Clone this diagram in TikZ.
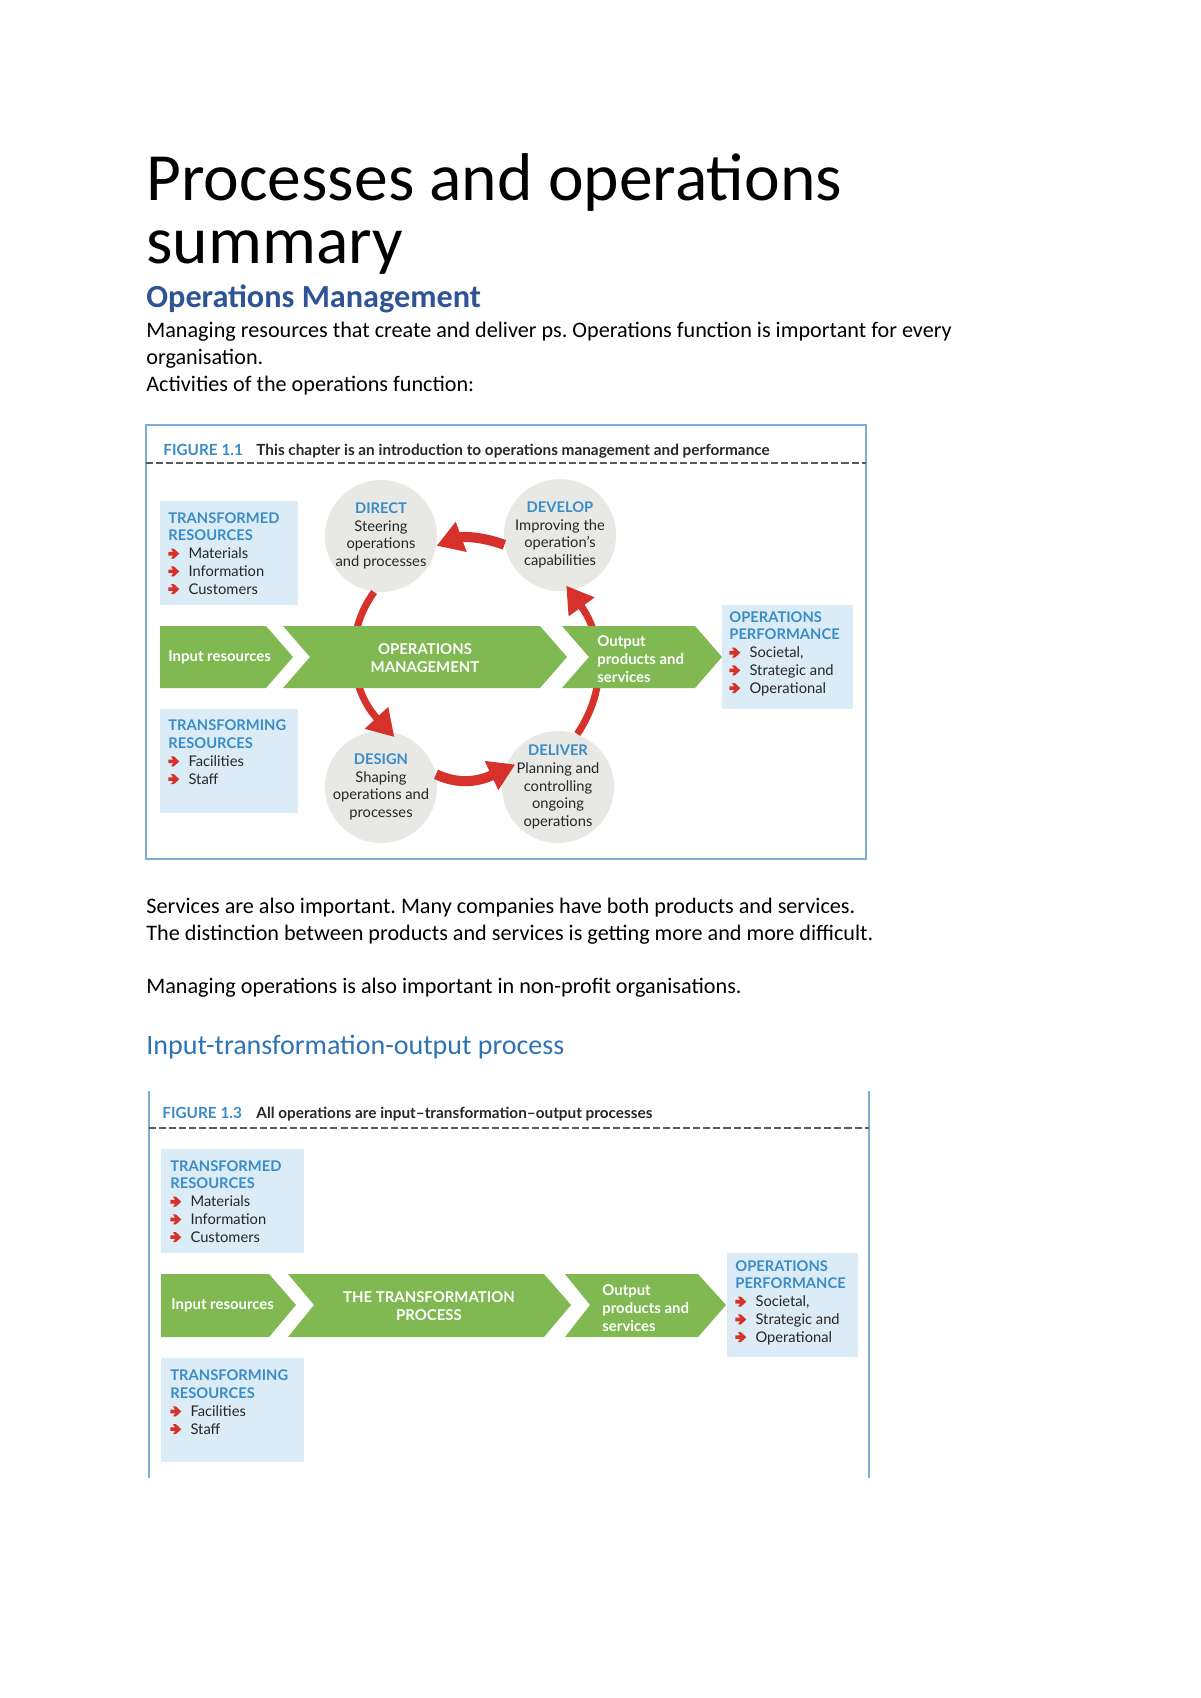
\documentclass[tikz,border=0pt]{standalone}
\usepackage{fontspec}
\setmainfont{Carlito}
\newfontfamily\figfont{Lato}
\usepackage{xcolor}
\usetikzlibrary{arrows.meta}
\frenchspacing
\definecolor{headblue}{RGB}{47,84,150}
\definecolor{subblue}{RGB}{46,116,181}
\definecolor{figblue}{RGB}{58,140,200}
\definecolor{boxblue}{RGB}{220,236,246}
\definecolor{bandgreen}{RGB}{128,185,82}
\definecolor{cyclered}{RGB}{214,49,43}
\definecolor{stagegray}{RGB}{232,232,229}
\definecolor{frameblue}{RGB}{126,173,216}
% red bullet arrow in the resource lists
\newcommand{\redarr}{\tikz[baseline=0pt]\fill[cyclered] (0pt,3.3pt) -- (2.3pt,3.3pt) -- (1.3pt,4.9pt) -- (2.7pt,4.9pt) -- (5.4pt,2.4pt) -- (2.7pt,-0.1pt) -- (1.3pt,-0.1pt) -- (2.3pt,1.5pt) -- (0pt,1.5pt) -- cycle;\hspace{4.6pt}}
\newcommand{\boxhead}[1]{{\bfseries\color{figblue}#1}}
\tikzset{
  pagetext/.style={anchor=base west, inner sep=0pt, font=\fontsize{11}{13.4}\selectfont},
  pagetitle/.style={pagetext, font=\fontsize{33.5}{40}\selectfont},
  headone/.style={pagetext, font=\fontsize{16}{19}\selectfont\bfseries, text=headblue},
  headtwo/.style={pagetext, font=\fontsize{13.9}{16}\selectfont, text=subblue},
  figborder/.style={draw=frameblue, line width=0.9pt},
  figrule/.style={draw=black!65, line width=0.7pt, dash pattern=on 3.5pt off 1.5pt},
  fignum/.style={anchor=base west, inner sep=0pt, font=\figfont\fontsize{7.6}{8.8}\selectfont\bfseries, text=figblue},
  figcap/.style={fignum, text=black!85},
  resbox/.style={anchor=north west, fill=boxblue, inner sep=0pt, minimum width=68.5pt, minimum height=51.6pt},
  perfbox/.style={resbox, minimum width=65pt},
  boxtext/.style={anchor=base west, inner sep=0pt, align=left, font=\figfont\fontsize{7.3}{8.8}\selectfont, text=black!85},
  stage/.style={circle, fill=stagegray, inner sep=0pt, minimum size=55.6pt},
  stagetext/.style={inner sep=0pt, align=center, font=\figfont\fontsize{7.3}{8.8}\selectfont, text=black!85},
  bandtext/.style={inner sep=0pt, font=\figfont\fontsize{7.4}{8.8}\selectfont\bfseries, text=white},
  cyclearrow/.style={draw=cyclered, line width=#1, -{Triangle[length=13pt,width=15pt]}},
  cyclearrow/.default=4pt
}
\begin{document}
\begin{tikzpicture}[x=0.4961pt, y=0.4961pt]
\useasboundingbox (0,0) rectangle (1200,-1698);
\fill[white] (0,0) rectangle (1200,-1698);
% Page heading and opening lines
\node[pagetitle] (title) at (146,-200) {Processes and operations};
\node[pagetitle] (titletwo) at (146,-263) {summary};
\node[headone] (opsman) at (146,-307) {Operations Management};
\node[pagetext] (lineone) at (146,-337) {Managing resources that create and deliver ps. Operations function is important for every};
\node[pagetext] (linetwo) at (146,-364) {organisation.};
\node[pagetext] (linethree) at (146,-391) {Activities of the operations function:};
% FIGURE 1.1 frame and caption
\draw[figborder] (146,-425) rectangle (866,-859);
\node[fignum] (numone) at (163,-455) {FIGURE 1.1};
\node[figcap] (capone) at (256,-455) {This chapter is an introduction to operations management and performance};
\draw[figrule] (146,-463) -- (866,-463);
% resource boxes (list nodes sit on the baseline of their last line)
\node[resbox] (transformed) at (160,-501) {};
\node[boxtext] (transformedlist) at (168,-594) {\boxhead{TRANSFORMED}\\\boxhead{RESOURCES}\\\redarr Materials\\\redarr Information\\\redarr Customers};
\node[resbox] (transforming) at (160,-709) {};
\node[boxtext] (transforminglist) at (168,-784) {\boxhead{TRANSFORMING}\\\boxhead{RESOURCES}\\\redarr Facilities\\\redarr Staff};
\node[perfbox] (perf) at (722,-605) {};
\node[boxtext] (perflist) at (729,-693) {\boxhead{OPERATIONS}\\\boxhead{PERFORMANCE}\\\redarr Societal,\\\redarr Strategic and\\\redarr Operational};
% the four activities
\node[stage] (direct) at (381,-536) {};
\node[stagetext] (directtext) at (direct) {\boxhead{DIRECT}\\Steering\\operations\\and processes};
\node[stage] (develop) at (560,-535) {};
\node[stagetext] (developtext) at (develop) {\boxhead{DEVELOP}\\Improving the\\operation’s\\capabilities};
\node[stage] (design) at (381,-787) {};
\node[stagetext] (designtext) at (design) {\boxhead{DESIGN}\\Shaping\\operations and\\processes};
\node[stage] (deliver) at (558,-787) {};
\node[stagetext] (delivertext) at (deliver) {\boxhead{DELIVER}\\Planning and\\controlling\\ongoing\\operations};
% red cycle
\draw[cyclearrow=5pt] (develop.190) to[out=160,in=20] (direct.-10);
\draw[cyclearrow=3.5pt, shorten >=-4pt] (direct.263) to[out=234,in=133] (design.82);
\draw[cyclearrow=5pt, shorten >=-6pt] (design.13) to[out=-25,in=205] (deliver.162);
\draw[cyclearrow=3.5pt, shorten >=-3pt] (deliver.70) to[out=56,in=-54] (develop.-80);
% green band
\fill[bandgreen] (160,-626) -- (266,-626) -- (293,-657) -- (266,-688) -- (160,-688) -- cycle;
\fill[bandgreen] (283,-626) -- (540,-626) -- (567,-657) -- (540,-688) -- (283,-688) -- (310,-657) -- cycle;
\fill[bandgreen] (562,-626) -- (695,-626) -- (722,-657) -- (695,-688) -- (562,-688) -- (589,-657) -- cycle;
\node[bandtext, anchor=west] (inputone) at (168,-657) {Input resources};
\node[bandtext, align=center] (opsmgmt) at (425,-658) {OPERATIONS\\MANAGEMENT};
\node[bandtext, align=left, anchor=west] (outputone) at (597,-659) {Output\\products and\\services};
% text between the figures
\node[pagetext] (linefour) at (146,-913) {Services are also important. Many companies have both products and services.};
\node[pagetext] (linefive) at (146,-940) {The distinction between products and services is getting more and more difficult.};
\node[pagetext] (linesix) at (146,-993) {Managing operations is also important in non-profit organisations.};
\node[headtwo] (itoproc) at (146,-1054) {Input-transformation-output process};
% FIGURE 1.3 frame and caption
\draw[figborder] (149,-1091) -- (149,-1478);
\draw[figborder] (869,-1091) -- (869,-1478);
\node[fignum] (numtwo) at (162,-1118) {FIGURE 1.3};
\node[figcap] (captwo) at (256,-1118) {All operations are input–transformation–output processes};
\draw[figrule] (149,-1128) -- (869,-1128);
% resource boxes
\node[resbox, minimum width=70.5pt] (transformedtwo) at (161,-1149) {};
\node[boxtext] (transformedlisttwo) at (170,-1242) {\boxhead{TRANSFORMED}\\\boxhead{RESOURCES}\\\redarr Materials\\\redarr Information\\\redarr Customers};
\node[resbox, minimum width=70.5pt] (transformingtwo) at (161,-1358) {};
\node[boxtext] (transforminglisttwo) at (170,-1434) {\boxhead{TRANSFORMING}\\\boxhead{RESOURCES}\\\redarr Facilities\\\redarr Staff};
\node[perfbox] (perftwo) at (727,-1253) {};
\node[boxtext] (perflisttwo) at (735,-1342) {\boxhead{OPERATIONS}\\\boxhead{PERFORMANCE}\\\redarr Societal,\\\redarr Strategic and\\\redarr Operational};
% green band
\fill[bandgreen] (161,-1274) -- (269,-1274) -- (296,-1305) -- (269,-1337) -- (161,-1337) -- cycle;
\fill[bandgreen] (288,-1274) -- (544,-1274) -- (571,-1305) -- (544,-1337) -- (288,-1337) -- (314,-1305) -- cycle;
\fill[bandgreen] (565,-1274) -- (698,-1274) -- (726,-1305) -- (698,-1337) -- (565,-1337) -- (590,-1305) -- cycle;
\node[bandtext, anchor=west] (inputtwo) at (171,-1305) {Input resources};
\node[bandtext, align=center] (transproc) at (429,-1306) {THE TRANSFORMATION\\PROCESS};
\node[bandtext, align=left, anchor=west] (outputtwo) at (602,-1308) {Output\\products and\\services};
\end{tikzpicture}
\end{document}
